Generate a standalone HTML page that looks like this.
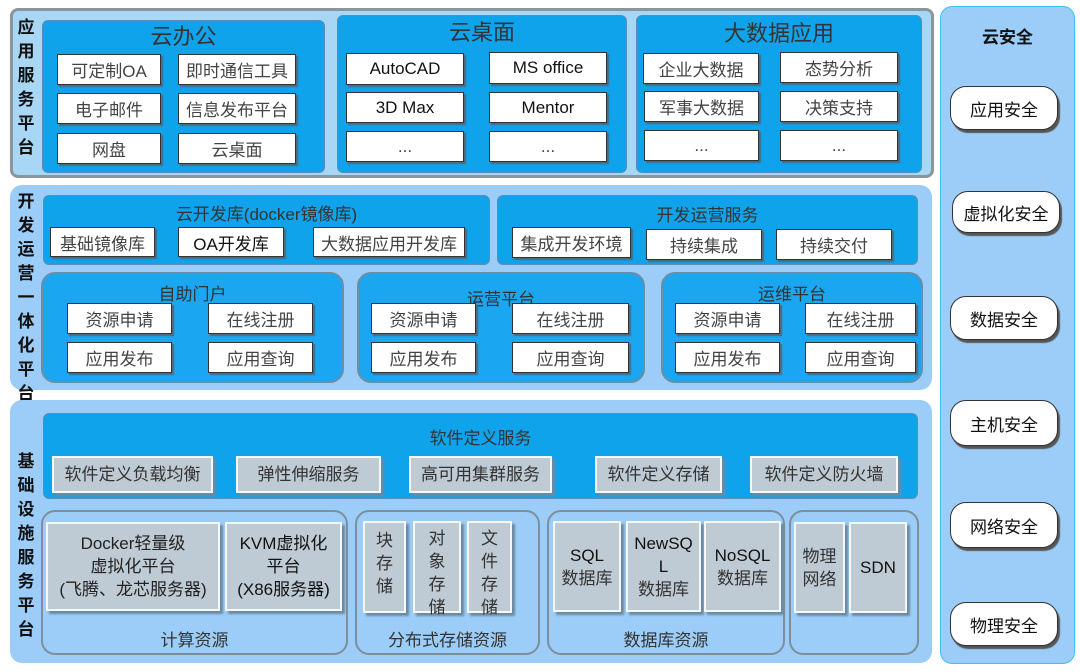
<!DOCTYPE html>
<html><head><meta charset="utf-8"><style>
*{margin:0;padding:0;box-sizing:border-box}
body{width:1080px;height:672px;background:#fff;position:relative;overflow:hidden;font-family:"Liberation Sans","Noto Sans CJK SC",sans-serif;color:#222}
div{position:absolute}
.band{background:#9ccdf8;border-radius:12px}
.pan{background:#0fa3ec;border-radius:6px;border:1px solid #5a8fb5}
.pan2{background:#1aa6f0;border-radius:14px;border:2px solid #6b8ea8}
.grp{border:2px solid #7d8f9c;border-radius:14px}
.w{background:#fff;border:1px solid #333;box-shadow:2px 2px 1px #4d6a80;display:flex;align-items:center;justify-content:center;font-size:17px;color:#444}
.g{background:#bfcbd4;border:2px solid #f4f8fb;box-shadow:3px 3px 2px #6c8aa0;display:flex;align-items:center;justify-content:center;font-size:17px;color:#333;text-align:center;line-height:23px}
.t{font-size:17px;color:#333;text-align:center}
.h{font-size:22px;line-height:26px}
.vl{font-size:17px;font-weight:bold;width:20px;text-align:center;line-height:24px;color:#111}
.sec{background:#fff;border:1px solid #333;border-radius:16px;box-shadow:2px 3px 1px #555;display:flex;align-items:center;justify-content:center;font-size:17px;color:#111}
</style></head><body>

<div style="left:10px;top:8px;width:924px;height:170px;background:#a8d7f6;border:3px solid #8a959c;border-radius:8px"></div>
<div class="vl" style="left:16px;top:16px">应<br>用<br>服<br>务<br>平<br>台</div>
<div class="pan" style="left:42px;top:20px;width:283px;height:153px"></div>
<div class="t h" style="left:42px;top:24px;width:283px">云办公</div>
<div class="w" style="left:57px;top:54px;width:104px;height:31px">可定制OA</div>
<div class="w" style="left:178px;top:54px;width:118px;height:31px">即时通信工具</div>
<div class="w" style="left:57px;top:93px;width:104px;height:31px">电子邮件</div>
<div class="w" style="left:178px;top:93px;width:118px;height:31px">信息发布平台</div>
<div class="w" style="left:57px;top:133px;width:104px;height:31px">网盘</div>
<div class="w" style="left:178px;top:133px;width:118px;height:31px">云桌面</div>

<div class="pan" style="left:337px;top:15px;width:290px;height:158px"></div>
<div class="t h" style="left:337px;top:20px;width:290px">云桌面</div>
<div class="w" style="left:346px;top:53px;width:118px;height:32px;color:#111">AutoCAD</div>
<div class="w" style="left:489px;top:52px;width:118px;height:32px;color:#111">MS office</div>
<div class="w" style="left:346px;top:92px;width:118px;height:31px;color:#111">3D Max</div>
<div class="w" style="left:489px;top:92px;width:118px;height:31px;color:#111">Mentor</div>
<div class="w" style="left:346px;top:131px;width:118px;height:31px">...</div>
<div class="w" style="left:489px;top:131px;width:118px;height:31px">...</div>

<div class="pan" style="left:636px;top:15px;width:286px;height:158px"></div>
<div class="t h" style="left:636px;top:21px;width:286px">大数据应用</div>
<div class="w" style="left:643px;top:53px;width:116px;height:31px">企业大数据</div>
<div class="w" style="left:780px;top:52px;width:118px;height:31px">态势分析</div>
<div class="w" style="left:644px;top:91px;width:115px;height:31px">军事大数据</div>
<div class="w" style="left:780px;top:91px;width:118px;height:31px">决策支持</div>
<div class="w" style="left:644px;top:130px;width:115px;height:31px">...</div>
<div class="w" style="left:780px;top:130px;width:118px;height:31px">...</div>

<div class="band" style="left:10px;top:185px;width:922px;height:205px"></div>
<div class="vl" style="left:16px;top:190px">开<br>发<br>运<br>营<br>一<br>体<br>化<br>平<br>台</div>
<div class="pan" style="left:43px;top:195px;width:447px;height:70px"></div>
<div class="t" style="left:43px;top:200px;width:447px">云开发库(docker镜像库)</div>
<div class="w" style="left:50px;top:227px;width:105px;height:30px">基础镜像库</div>
<div class="w" style="left:178px;top:227px;width:106px;height:30px;color:#111">OA开发库</div>
<div class="w" style="left:313px;top:227px;width:152px;height:30px">大数据应用开发库</div>

<div class="pan" style="left:497px;top:195px;width:421px;height:70px"></div>
<div class="t" style="left:497px;top:201px;width:421px">开发运营服务</div>
<div class="w" style="left:512px;top:227px;width:119px;height:31px;color:#444">集成开发环境</div>
<div class="w" style="left:646px;top:229px;width:116px;height:31px">持续集成</div>
<div class="w" style="left:776px;top:229px;width:116px;height:31px">持续交付</div>

<div class="pan2" style="left:41px;top:272px;width:303px;height:111px"></div>
<div class="t" style="left:41px;top:280px;width:303px">自助门户</div>
<div class="w" style="left:67px;top:303px;width:105px;height:31px">资源申请</div>
<div class="w" style="left:208px;top:303px;width:105px;height:31px">在线注册</div>
<div class="w" style="left:67px;top:342px;width:105px;height:31px">应用发布</div>
<div class="w" style="left:208px;top:342px;width:105px;height:31px">应用查询</div>

<div class="pan2" style="left:357px;top:272px;width:288px;height:111px"></div>
<div class="t" style="left:357px;top:285px;width:288px">运营平台</div>
<div class="w" style="left:371px;top:303px;width:105px;height:31px">资源申请</div>
<div class="w" style="left:512px;top:303px;width:117px;height:31px">在线注册</div>
<div class="w" style="left:371px;top:342px;width:105px;height:31px">应用发布</div>
<div class="w" style="left:512px;top:342px;width:117px;height:31px">应用查询</div>

<div class="pan2" style="left:661px;top:272px;width:262px;height:111px"></div>
<div class="t" style="left:661px;top:280px;width:262px">运维平台</div>
<div class="w" style="left:675px;top:303px;width:105px;height:31px">资源申请</div>
<div class="w" style="left:805px;top:303px;width:111px;height:31px">在线注册</div>
<div class="w" style="left:675px;top:342px;width:105px;height:31px">应用发布</div>
<div class="w" style="left:805px;top:342px;width:111px;height:31px">应用查询</div>

<div class="band" style="left:10px;top:400px;width:922px;height:263px"></div>
<div class="vl" style="left:16px;top:450px">基<br>础<br>设<br>施<br>服<br>务<br>平<br>台</div>
<div class="pan" style="left:43px;top:413px;width:875px;height:86px"></div>
<div class="t" style="left:43px;top:424px;width:875px">软件定义服务</div>
<div class="g" style="left:52px;top:456px;width:161px;height:37px">软件定义负载均衡</div>
<div class="g" style="left:236px;top:456px;width:145px;height:37px">弹性伸缩服务</div>
<div class="g" style="left:409px;top:456px;width:143px;height:37px">高可用集群服务</div>
<div class="g" style="left:595px;top:456px;width:127px;height:37px">软件定义存储</div>
<div class="g" style="left:750px;top:456px;width:148px;height:37px">软件定义防火墙</div>

<div class="grp" style="left:41px;top:510px;width:307px;height:145px"></div>
<div class="g" style="left:46px;top:522px;width:174px;height:89px;color:#222">Docker轻量级<br>虚拟化平台<br>(飞腾、龙芯服务器)</div>
<div class="g" style="left:225px;top:522px;width:117px;height:89px;color:#111">KVM虚拟化<br>平台<br>(X86服务器)</div>
<div class="t" style="left:41px;top:626px;width:307px">计算资源</div>

<div class="grp" style="left:355px;top:510px;width:185px;height:145px"></div>
<div class="g" style="left:363px;top:521px;width:43px;height:92px;align-items:flex-start;padding-top:6px">块<br>存<br>储</div>
<div class="g" style="left:413px;top:521px;width:48px;height:92px;align-items:flex-start;padding-top:4px;overflow:visible">对<br>象<br>存<br>储</div>
<div class="g" style="left:467px;top:521px;width:45px;height:92px;align-items:flex-start;padding-top:4px;overflow:visible">文<br>件<br>存<br>储</div>
<div class="t" style="left:355px;top:626px;width:185px">分布式存储资源</div>

<div class="grp" style="left:547px;top:510px;width:238px;height:145px"></div>
<div class="g" style="left:553px;top:521px;width:68px;height:91px"><span><span style="color:#111">SQL</span><br>数据库</span></div>
<div class="g" style="left:626px;top:521px;width:75px;height:91px"><span><span style="color:#111">NewSQ<br>L</span><br>数据库</span></div>
<div class="g" style="left:704px;top:521px;width:77px;height:91px"><span><span style="color:#111">NoSQL</span><br>数据库</span></div>
<div class="t" style="left:547px;top:626px;width:238px">数据库资源</div>

<div class="grp" style="left:789px;top:510px;width:130px;height:145px"></div>
<div class="g" style="left:794px;top:522px;width:51px;height:91px">物理<br>网络</div>
<div class="g" style="left:849px;top:522px;width:58px;height:91px;color:#111">SDN</div>

<div style="left:940px;top:6px;width:135px;height:658px;background:#9ccdf8;border:1px solid #3fc0ef;border-radius:12px"></div>
<div class="t" style="left:940px;top:23px;width:135px;font-weight:bold;color:#111">云安全</div>
<div class="sec" style="left:950px;top:86px;width:108px;height:44px">应用安全</div>
<div class="sec" style="left:952px;top:191px;width:108px;height:42px">虚拟化安全</div>
<div class="sec" style="left:950px;top:296px;width:108px;height:44px">数据安全</div>
<div class="sec" style="left:950px;top:400px;width:108px;height:46px">主机安全</div>
<div class="sec" style="left:950px;top:502px;width:108px;height:46px">网络安全</div>
<div class="sec" style="left:950px;top:602px;width:108px;height:44px">物理安全</div>
</body></html>
